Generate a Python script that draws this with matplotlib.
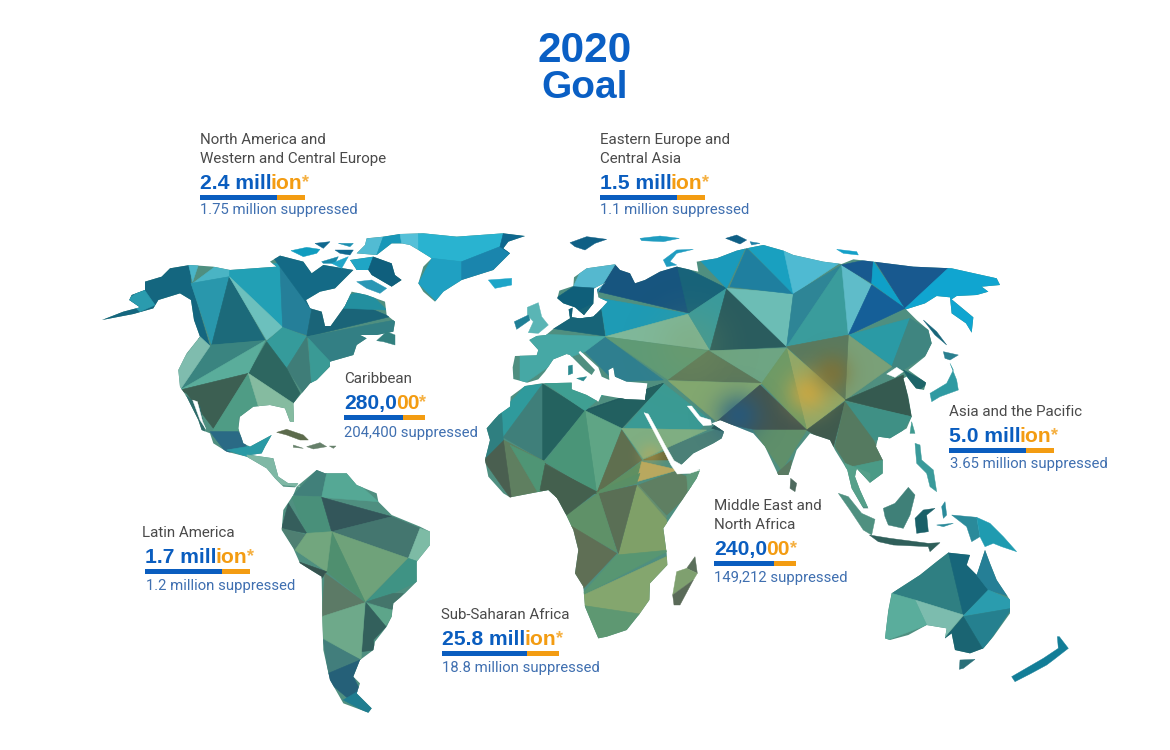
import numpy as np
import matplotlib
matplotlib.use("Agg")
import matplotlib.pyplot as plt
from matplotlib.patches import Polygon, PathPatch
from matplotlib.path import Path
from matplotlib.colors import to_rgb

# chart data
regions = [["North America and", "Western and Central Europe"],
           ["Eastern Europe and", "Central Asia"],
           ["Caribbean"],
           ["Latin America"],
           ["Sub-Saharan Africa"],
           ["Middle East and", "North Africa"],
           ["Asia and the Pacific"]]
goal_blue = ["2.4 mill", "1.5 mill", "280,0", "1.7 mill", "25.8 mill", "240,0", "5.0 mill"]
goal_orange = ["ion", "ion", "00", "ion", "ion", "00", "ion"]
suppressed = ["1.75 million", "1.1 million", "204,400", "1.2 million", "18.8 million", "149,212", "3.65 million"]
suppressed_share = 0.73

# where each block sits: left x, top of bar y, bar length, label shift, sub line offset (pixels)
layout = [(200, 195, 105, 0, 19), (600, 195, 105, 0, 19), (344, 415, 81, 0, 22), (145, 569, 105, -3, 21),
          (442, 651, 117, -1, 21), (714, 561, 82, 0, 21), (949, 448, 105, 0, 20)]

BLUE = "#0a5dbf"
ORANGE = "#f39c12"
SUB = "#3f6fb0"
GREY = "#4a4a4a"

O1 = (90, 220)
O2 = (520, 220)
O3 = (260, 450)
O4 = (820, 440)
O6 = (470, 280)
O7 = (540, 440)


def c(o, pts):
    return [(o[0] + x / 3, o[1] + y / 3) for x, y in pts]


north_america = c(O1, [(36, 300), (100, 275), (150, 262), (118, 240), (125, 225), (165, 210), (165, 185), (215, 170),
                       (240, 145), (300, 135), (370, 140), (420, 150), (490, 145), (560, 140), (540, 125), (570, 107),
                       (640, 125), (665, 160), (700, 135), (760, 145), (790, 150), (735, 205), (690, 215), (648, 240),
                       (660, 265), (695, 275), (705, 318), (722, 318), (765, 258), (785, 215), (830, 225), (885, 245),
                       (890, 285), (915, 305), (910, 335), (860, 345), (810, 345), (830, 355), (800, 375), (790, 405),
                       (720, 425), (720, 440), (680, 480), (660, 490), (610, 550), (612, 605), (600, 605), (585, 565),
                       (540, 555), (490, 560), (450, 590), (445, 625), (460, 670), (480, 680), (545, 645), (525, 680),
                       (515, 700), (480, 705), (550, 715), (565, 770), (595, 790), (625, 790), (615, 802), (580, 800),
                       (555, 775), (530, 745), (470, 710), (410, 695), (370, 670), (360, 640), (335, 630), (325, 600),
                       (290, 530), (270, 500), (265, 450), (290, 400), (330, 350), (312, 300), (303, 240), (270, 220),
                       (205, 240), (190, 265), (130, 282)])
south_america = c(O3, [(100, 135), (110, 110), (170, 60), (195, 70), (260, 70), (290, 105), (350, 130), (355, 155),
                       (395, 195), (480, 230), (510, 245), (510, 285), (470, 335), (470, 395), (435, 430), (400, 460),
                       (395, 500), (380, 530), (345, 575), (340, 600), (300, 630), (280, 680), (300, 700), (290, 730),
                       (335, 775), (325, 788), (250, 760), (210, 690), (190, 600), (187, 500), (185, 380), (120, 340),
                       (100, 295), (65, 240), (70, 180)])
greenland = c(O1, [(830, 55), (880, 50), (930, 42), (1000, 40), (1100, 50), (1240, 40), (1305, 48), (1255, 65),
                   (1240, 85), (1260, 100), (1235, 125), (1210, 150), (1115, 180), (1060, 215), (1035, 245),
                   (1000, 215), (985, 190), (1000, 140), (1025, 115), (985, 90), (960, 75), (935, 70), (905, 70),
                   (860, 105), (800, 100), (825, 75)])
baffin = c(O1, [(780, 120), (850, 110), (905, 130), (915, 165), (935, 180), (905, 200), (845, 165), (835, 150), (800, 150)])
eurasia_africa = (
    c(O6, [(172, 308), (130, 297), (128, 262), (135, 228), (200, 226), (205, 210), (178, 180), (200, 168), (228, 165),
           (252, 145), (300, 115), (296, 88), (308, 83), (305, 112), (330, 115), (370, 110), (395, 85), (413, 65)])
    + c(O2, [(235, 232), (232, 208), (258, 187), (222, 205), (220, 250), (192, 285), (165, 262), (130, 250), (112, 235),
             (118, 212), (160, 198), (162, 172), (200, 145), (285, 133), (300, 150), (330, 160), (345, 190), (375, 180),
             (420, 155), (470, 140), (535, 155), (530, 125), (590, 115), (650, 92), (680, 85), (730, 75), (790, 92),
             (820, 105), (910, 125), (965, 132), (1000, 118), (1060, 125), (1180, 140), (1295, 145), (1430, 175),
             (1440, 195), (1385, 200), (1405, 215), (1370, 225), (1310, 228), (1295, 238), (1360, 292), (1355, 338),
             (1338, 310), (1295, 280), (1290, 232), (1250, 228), (1215, 250), (1158, 268), (1190, 300), (1225, 330),
             (1235, 370), (1215, 410), (1165, 450), (1218, 488), (1212, 510), (1188, 505), (1160, 470), (1150, 475),
             (1165, 530), (1175, 590), (1160, 625), (1110, 655), (1075, 650), (1068, 680), (1088, 720), (1088, 760),
             (1050, 788), (1010, 745)])
    + c(O4, [(105, 110), (120, 150), (145, 205), (130, 205), (95, 145), (82, 90)])
    + c(O2, [(945, 690), (930, 660), (870, 640), (830, 690), (805, 765), (775, 765), (735, 680), (700, 640), (650, 620),
             (600, 600), (575, 610), (612, 635), (605, 655), (580, 670), (520, 700), (480, 738)])
    + c(O6, [(620, 580), (690, 568)])
    + c(O7, [(480, 90), (470, 115), (440, 160), (370, 265), (380, 340), (382, 375), (330, 430), (328, 480), (300, 520),
             (260, 570), (200, 590), (175, 595), (160, 560), (135, 500), (130, 440), (105, 400), (115, 330), (100, 270),
             (80, 228), (51, 174)])
    + c(O6, [(235, 630), (120, 652), (100, 640), (55, 590), (45, 540), (60, 480), (50, 445), (85, 405), (120, 380),
             (122, 350), (165, 318), (215, 310), (305, 308), (305, 328), (350, 345), (385, 365), (395, 345), (470, 358),
             (525, 360), (532, 310), (470, 305), (435, 290), (430, 262), (415, 270), (418, 300), (395, 290), (385, 262),
             (330, 212), (325, 218), (375, 270), (365, 285), (345, 270), (300, 225), (290, 222), (250, 238), (225, 275),
             (205, 298)]))
australia = c(O4, [(195, 595), (205, 510), (215, 460), (300, 405), (350, 365), (385, 338), (450, 345), (440, 375),
                   (470, 405), (495, 330), (510, 370), (530, 420), (570, 480), (570, 520), (520, 590), (490, 625),
                   (450, 640), (405, 630), (395, 580), (375, 595), (380, 565), (320, 555), (265, 585), (210, 600)])
land = [north_america, south_america, greenland, baffin, eurasia_africa, australia]

facets = [
    # north america
    (O1, "#14667f", [(0, 320), (120, 150), (300, 130), (303, 190), (360, 380), (250, 300)]),
    (O1, "#2a9bae", [(110, 240), (160, 205), (195, 255), (150, 275)]),
    (O1, "#4ab5c8", [(296, 135), (325, 135), (308, 185)]),
    (O1, "#4ab4c4", [(308, 190), (375, 140), (420, 150), (418, 170)]),
    (O1, "#2997ac", [(303, 190), (418, 170), (365, 375)]),
    (O1, "#1c6a7a", [(418, 170), (525, 360), (365, 375)]),
    (O1, "#22a0b5", [(418, 170), (420, 140), (570, 130), (578, 322)]),
    (O1, "#6cc0bd", [(418, 170), (578, 322), (530, 360)]),
    (O1, "#257f99", [(570, 140), (665, 270), (650, 345), (578, 322)]),
    (O1, "#146a86", [(570, 140), (540, 100), (800, 150), (735, 210), (665, 270)]),
    (O1, "#1a6478", [(665, 270), (780, 240), (900, 290), (650, 350)]),
    (O1, "#238f9f", [(760, 230), (830, 210), (890, 270), (760, 265)]),
    (O1, "#337f84", [(650, 350), (915, 300), (920, 380), (725, 430)]),
    (O1, "#359b9b", [(578, 322), (650, 350), (590, 445), (530, 365)]),
    (O1, "#3f7d78", [(650, 350), (590, 445), (640, 520), (665, 500)]),
    (O1, "#3a9a95", [(655, 355), (725, 430), (665, 500)]),
    (O1, "#2d6660", [(530, 365), (590, 445), (630, 520), (610, 550), (475, 460)]),
    (O1, "#3a8480", [(360, 375), (525, 362), (270, 510)]),
    (O1, "#7fbcae", [(330, 350), (360, 378), (270, 510), (255, 450)]),
    (O1, "#5aad9b", [(525, 362), (475, 460), (270, 510)]),
    (O1, "#3c5f52", [(270, 510), (475, 460), (370, 625), (290, 520)]),
    (O1, "#2f6b6a", [(285, 525), (330, 560), (345, 640), (320, 630)]),
    (O1, "#4f9c85", [(475, 460), (510, 575), (445, 590), (445, 635), (368, 632)]),
    (O1, "#85bba0", [(475, 460), (610, 550), (620, 610), (510, 575)]),
    (O1, "#2a6a85", [(360, 635), (445, 635), (470, 680), (410, 700)]),
    (O1, "#2a9aa5", [(410, 690), (470, 680), (550, 640), (520, 700), (470, 710)]),
    (O1, "#7fb8a5", [(470, 705), (560, 710), (630, 800), (530, 790)]),
    # greenland and baffin
    (O1, "#52bbd3", [(830, 55), (880, 50), (860, 105), (800, 100)]),
    (O1, "#1897b8", [(880, 50), (930, 42), (935, 70), (860, 105)]),
    (O1, "#55c0d8", [(930, 42), (985, 40), (990, 90), (935, 70)]),
    (O1, "#29b3d0", [(985, 40), (1240, 40), (1230, 80), (1115, 125), (1025, 115), (985, 90)]),
    (O1, "#1fa0c2", [(1025, 115), (1115, 125), (1115, 180), (1040, 245), (985, 190)]),
    (O1, "#1a85ad", [(1115, 125), (1230, 80), (1260, 100), (1210, 150), (1115, 180)]),
    (O1, "#0f688f", [(1240, 40), (1305, 48), (1260, 100), (1230, 80)]),
    (O1, "#1fa5c5", [(780, 120), (850, 110), (835, 150), (800, 150)]),
    (O1, "#0f5f7d", [(850, 110), (905, 130), (915, 165), (935, 180), (905, 200), (845, 165), (835, 150)]),
    # south america
    (O3, "#41807a", [(100, 135), (170, 60), (200, 70), (185, 140)]),
    (O3, "#55a895", [(200, 70), (260, 70), (355, 155), (185, 142)]),
    (O3, "#49907a", [(95, 140), (185, 140), (212, 245), (140, 255)]),
    (O3, "#355e5c", [(85, 160), (140, 250), (65, 235)]),
    (O3, "#4f7f72", [(65, 235), (140, 255), (105, 300)]),
    (O3, "#33565a", [(185, 142), (395, 200), (215, 245)]),
    (O3, "#44766f", [(215, 245), (395, 200), (480, 235), (445, 325)]),
    (O3, "#6fa27a", [(215, 245), (445, 325), (315, 455)]),
    (O3, "#7dbba5", [(480, 235), (510, 245), (510, 290), (470, 335), (445, 325)]),
    (O3, "#3f9384", [(445, 325), (475, 335), (470, 395), (400, 430), (320, 455)]),
    (O3, "#44756b", [(320, 455), (400, 430), (430, 430), (395, 480)]),
    (O3, "#5da58a", [(320, 460), (395, 480), (395, 500), (375, 530)]),
    (O3, "#4f8f6f", [(215, 245), (315, 455), (200, 365)]),
    (O3, "#72a67e", [(140, 250), (215, 245), (200, 365), (105, 300)]),
    (O3, "#36534f", [(115, 335), (200, 365), (185, 385)]),
    (O3, "#5c7a66", [(195, 370), (315, 458), (185, 500)]),
    (O3, "#33605c", [(318, 458), (378, 530), (340, 570), (345, 600), (303, 605)]),
    (O3, "#6ea98a", [(185, 500), (315, 458), (303, 630), (190, 565)]),
    (O3, "#427e7c", [(190, 570), (303, 630), (205, 670)]),
    (O3, "#256078", [(205, 670), (300, 630), (280, 680), (300, 720), (270, 750), (210, 700)]),
    (O3, "#1f7d90", [(250, 750), (300, 720), (338, 778), (325, 790)]),
    # europe and asia
    (O2, "#17557f", [(235, 215), (290, 130), (470, 130), (510, 280)]),
    (O2, "#18637a", [(470, 130), (620, 205), (505, 280)]),
    (O2, "#55b8cf", [(160, 200), (190, 135), (290, 125), (235, 215), (215, 205)]),
    (O2, "#0f5f7a", [(100, 240), (160, 200), (235, 205), (225, 295), (160, 295)]),
    (O2, "#176478", [(95, 325), (140, 290), (240, 240), (255, 348)]),
    (O2, "#1e9bb5", [(240, 235), (510, 282), (258, 348)]),
    (O2, "#7fb89a", [(255, 350), (505, 282), (570, 390)]),
    (O2, "#3a9a9c", [(505, 282), (620, 205), (570, 390)]),
    (O2, "#2a5c5e", [(620, 205), (800, 380), (570, 392)]),
    (O2, "#6cbdb5", [(620, 205), (820, 220), (800, 380)]),
    (O2, "#1a9abb", [(530, 110), (680, 75), (620, 205)]),
    (O2, "#1f7f9f", [(680, 85), (630, 200), (820, 222)]),
    (O2, "#19a0c0", [(680, 80), (790, 70), (820, 222)]),
    (O2, "#4fbad2", [(790, 85), (965, 125), (820, 222)]),
    (O2, "#2e8596", [(820, 222), (965, 135), (800, 380)]),
    (O2, "#3a9c9c", [(965, 135), (985, 345), (800, 380)]),
    (O2, "#5fbcc9", [(965, 135), (1055, 195), (985, 345)]),
    (O2, "#18598f", [(965, 135), (1060, 115), (1055, 190)]),
    (O2, "#0fa0c8", [(1060, 125), (1155, 265), (1055, 190)]),
    (O2, "#18598f", [(1060, 115), (1295, 135), (1155, 265)]),
    (O2, "#155f98", [(1055, 195), (1155, 265), (985, 345)]),
    (O2, "#10a5d0", [(1295, 135), (1450, 180), (1370, 350), (1155, 265)]),
    (O2, "#2a9aa5", [(985, 345), (1170, 295), (1120, 440)]),
    (O2, "#3f8580", [(1170, 295), (1240, 340), (1240, 390), (1150, 450), (1115, 440)]),
    (O2, "#7aa078", [(985, 345), (1115, 440), (975, 540)]),
    (O2, "#5a7a5f", [(800, 380), (985, 345), (975, 540)]),
    (O2, "#90a86a", [(800, 385), (975, 540), (860, 630)]),
    (O2, "#6ea583", [(570, 392), (800, 385), (725, 490)]),
    (O2, "#6e9a66", [(800, 385), (860, 630), (725, 490)]),
    (O2, "#5f9a76", [(255, 350), (565, 392), (445, 480)]),
    (O2, "#5f7a5a", [(565, 392), (725, 490), (445, 480)]),
    (O2, "#83a870", [(445, 482), (725, 490), (590, 605)]),
    (O2, "#2f7f8f", [(195, 395), (255, 352), (430, 480), (285, 485)]),
    (O2, "#46a8a5", [(0, 340), (255, 350), (195, 395), (100, 430), (0, 500)]),
    (O2, "#45564f", [(720, 495), (590, 605), (720, 632), (860, 630)]),
    (O2, "#3a9a94", [(430, 490), (570, 600), (540, 628), (310, 628)]),
    (O2, "#1f5a5e", [(195, 570), (430, 490), (300, 625)]),
    (O2, "#56a08a", [(310, 630), (540, 630), (450, 690), (370, 720)]),
    (O2, "#4b8077", [(440, 680), (600, 625), (620, 650), (480, 745)]),
    (O2, "#2a5a55", [(575, 625), (600, 600), (615, 635)]),
    (O2, "#5f8f6a", [(700, 630), (860, 630), (785, 750)]),
    (O2, "#5a7a62", [(770, 760), (815, 720), (805, 800)]),
    (O2, "#3f5a4e", [(860, 630), (975, 545), (940, 680)]),
    (O2, "#355a50", [(975, 540), (1150, 465), (1175, 590)]),
    (O2, "#3f9085", [(975, 545), (1175, 590), (1130, 660), (1040, 660)]),
    (O2, "#557a60", [(975, 545), (1060, 660), (1090, 720), (985, 740), (945, 680)]),
    (O2, "#4a9a86", [(1000, 740), (1090, 720), (1090, 760), (1050, 790)]),
    (O2, "#1d6468", [(1150, 450), (1225, 490), (1190, 515)]),
    (O2, "#55a08a", [(975, 730), (1050, 760), (1050, 860), (975, 860)]),
    # africa
    (O6, "#2f9a9c", [(165, 318), (218, 312), (100, 470), (85, 405)]),
    (O6, "#3f7f7a", [(218, 312), (218, 540), (100, 472)]),
    (O6, "#24625f", [(218, 312), (345, 392), (218, 545)]),
    (O6, "#3f9f92", [(218, 305), (305, 305), (400, 345), (345, 392)]),
    (O6, "#226060", [(345, 395), (580, 310), (455, 445)]),
    (O6, "#5fa585", [(345, 392), (455, 445), (380, 640)]),
    (O6, "#4a9578", [(345, 392), (380, 640), (225, 545)]),
    (O6, "#5f7f60", [(100, 480), (225, 545), (210, 640), (120, 660)]),
    (O6, "#4f9575", [(120, 495), (225, 545), (250, 650), (205, 640)]),
    (O6, "#4a5f50", [(40, 540), (100, 480), (125, 660)]),
    (O6, "#2f7f80", [(45, 440), (95, 400), (100, 480), (40, 540)]),
    (O6, "#4a6650", [(225, 550), (380, 640), (260, 660)]),
    (O6, "#5f6f4f", [(455, 450), (515, 540), (380, 640)]),
    (O6, "#5f8f62", [(380, 640), (515, 545), (495, 610)]),
    (O6, "#7fae82", [(455, 445), (710, 450), (520, 535)]),
    (O6, "#6a6a3a", [(520, 540), (610, 540), (580, 515)]),
    (O6, "#b8a860", [(500, 605), (515, 545), (625, 570)]),
    (O7, "#5f7f62", [(295, 135), (405, 95), (440, 110), (460, 150), (380, 225)]),
    (O7, "#5f9a7a", [(440, 105), (490, 85), (445, 175)]),
    (O7, "#688f6e", [(295, 135), (380, 230), (365, 270)]),
    (O7, "#7fa068", [(290, 135), (380, 240), (390, 335), (235, 345)]),
    (O7, "#5a6f55", [(175, 160), (290, 135), (235, 340)]),
    (O7, "#5f9168", [(70, 230), (175, 160), (230, 335), (100, 265)]),
    (O7, "#5a8f65", [(175, 160), (290, 130), (300, 100), (180, 150)]),
    (O7, "#44604e", [(15, 75), (170, 155), (80, 225), (40, 180), (0, 150)]),
    (O7, "#5f6f55", [(80, 250), (230, 340), (130, 445), (80, 410)]),
    (O7, "#589672", [(230, 345), (390, 330), (120, 470)]),
    (O7, "#84a66e", [(120, 470), (390, 345), (390, 385), (335, 440), (320, 530), (120, 495)]),
    (O7, "#5e9872", [(120, 495), (320, 525), (270, 585), (160, 610)]),
    # australia
    (O4, "#2f7f82", [(215, 460), (385, 335), (430, 525), (285, 480)]),
    (O4, "#17667a", [(385, 335), (455, 340), (470, 405), (505, 450), (430, 525)]),
    (O4, "#257f96", [(470, 405), (495, 325), (570, 470), (505, 450)]),
    (O4, "#2a9cae", [(505, 450), (575, 480), (575, 505), (430, 528)]),
    (O4, "#25808f", [(430, 530), (575, 505), (490, 630)]),
    (O4, "#1a6472", [(430, 530), (490, 630), (450, 645), (400, 635), (370, 600)]),
    (O4, "#7cbcae", [(285, 480), (430, 525), (375, 590), (320, 555)]),
    (O4, "#5aad9c", [(215, 460), (285, 480), (320, 555), (190, 605)]),
]

# small islands in one colour each
islands = [
    (O1, "#1da5c8", [(1195, 180), (1265, 175), (1265, 195), (1215, 205)]),
    (O1, "#109cbf", [(603, 92), (650, 82), (690, 88), (680, 100), (640, 110)]),
    (O1, "#0f688f", [(675, 70), (720, 65), (700, 85)]),
    (O1, "#0f688f", [(735, 90), (790, 90), (780, 105), (750, 100)]),
    (O1, "#1a8fb0", [(745, 70), (790, 70), (780, 80)]),
    (O1, "#1788a8", [(695, 125), (745, 110), (735, 130), (700, 130)]),
    (O1, "#20a5c8", [(725, 130), (775, 110), (755, 145)]),
    (O1, "#2a97b5", [(800, 185), (845, 180), (890, 205), (870, 220), (830, 205)]),
    (O1, "#32807f", [(860, 362), (890, 335), (915, 345), (915, 375), (880, 365)]),
    (O1, "#5c6b4c", [(560, 637), (590, 628), (640, 645), (655, 660), (630, 660), (590, 645)]),
    (O1, "#66806a", [(610, 675), (640, 685), (610, 682)]),
    (O1, "#66806a", [(650, 680), (690, 668), (710, 680), (670, 687)]),
    (O1, "#66806a", [(718, 678), (738, 678), (730, 685)]),
    (O6, "#5ab5b5", [(172, 82), (205, 68), (215, 110), (235, 135), (205, 160), (175, 158), (190, 125), (172, 105)]),
    (O6, "#1f7f96", [(133, 125), (175, 105), (180, 120), (140, 148)]),
    (O6, "#2a8a90", [(295, 258), (307, 255), (308, 280), (295, 285)]),
    (O6, "#2a8a90", [(320, 295), (350, 290), (340, 303)]),
    (O2, "#0f5f85", [(150, 68), (200, 50), (260, 58), (225, 70), (195, 90), (165, 80)]),
    (O2, "#1f9cc0", [(360, 55), (420, 48), (478, 55), (430, 65), (365, 62)]),
    (O2, "#0f5f85", [(617, 55), (650, 45), (680, 60), (660, 72)]),
    (O2, "#1f7fa5", [(690, 65), (720, 70), (695, 75)]),
    (O2, "#1f9cc0", [(430, 120), (470, 90), (520, 88), (470, 100), (450, 125), (470, 135), (440, 140)]),
    (O2, "#14a0c8", [(950, 88), (1010, 95), (1015, 105), (970, 100)]),
    (O2, "#17657a", [(1210, 300), (1250, 335), (1280, 375), (1245, 345)]),
    (O2, "#2a7f8f", [(1270, 395), (1315, 405), (1290, 420), (1275, 415)]),
    (O2, "#2f9aa2", [(1290, 430), (1310, 480), (1315, 510), (1260, 530), (1235, 545), (1230, 520), (1280, 490), (1300, 450)]),
    (O2, "#3f9a90", [(1175, 605), (1185, 640), (1170, 640)]),
    (O2, "#4e6a5e", [(812, 775), (830, 790), (825, 815), (810, 805)]),
    (O7, "#5a6f5a", [(440, 385), (465, 350), (472, 400)]),
    (O7, "#7fa06f", [(410, 395), (440, 385), (472, 400), (460, 420), (398, 465)]),
    (O7, "#5a6a58", [(398, 465), (460, 420), (420, 495), (402, 495)]),
    (O4, "#3a9a9a", [(285, 10), (300, 15), (305, 60), (340, 90), (350, 155), (330, 140), (320, 100), (290, 70)]),
    (O4, "#4f9080", [(55, 160), (85, 170), (125, 220), (165, 238), (155, 285), (130, 270), (90, 210)]),
    (O4, "#2f5f5a", [(148, 285), (210, 295), (325, 310), (360, 308), (330, 335), (325, 320), (220, 315), (175, 305)]),
    (O4, "#3f8078", [(190, 205), (225, 190), (265, 142), (285, 165), (270, 225), (250, 265), (205, 255), (195, 230)]),
    (O4, "#1a6068", [(285, 235), (310, 210), (345, 205), (320, 225), (325, 275), (290, 280)]),
    (O4, "#2a8a9a", [(365, 200), (375, 185), (380, 225), (370, 235)]),
    (O4, "#2a8a9a", [(350, 255), (400, 250), (370, 260)]),
    (O4, "#2a8a9a", [(395, 225), (470, 232), (480, 290), (455, 305), (440, 260)]),
    (O4, "#1f9bb0", [(470, 232), (510, 250), (550, 290), (590, 335), (545, 320), (520, 310), (495, 320), (480, 290)]),
    (O4, "#2a6f78", [(420, 660), (465, 658), (430, 685), (418, 688)]),
    (O4, "#127d97", [(575, 710), (670, 655), (715, 625), (712, 590), (718, 590), (745, 625), (700, 660), (680, 675), (630, 702), (585, 725)]),
]

# seas cut out of the land
seas = [
    (O6, [(522, 398), (535, 402), (560, 448), (585, 495), (612, 542), (635, 555), (690, 570), (660, 580), (622, 582), (603, 555), (578, 505), (552, 455)]),
    (O6, [(652, 378), (665, 378), (690, 410), (722, 420), (725, 435), (700, 437), (685, 420)]),
    (O1, [(308, 540), (322, 545), (338, 605), (348, 628), (330, 600)]),
    (O2, [(1100, 462), (1130, 442), (1150, 455), (1125, 472)]),
]

# soft colour patches over the middle of asia: x, y, radius, colour, strength
glows = [(808, 392, 24, "#d0a840", 0.8), (832, 372, 22, "#8a6f2a", 0.6), (738, 415, 26, "#1f5a88", 0.7),
         (650, 455, 14, "#c8a850", 0.4), (690, 345, 40, "#7f9a5f", 0.25)]

fig = plt.figure(figsize=(11.7, 7.5), dpi=100)
ax = fig.add_axes([0, 0, 1, 1])
ax.axis("off")

verts, codes = [], []
for poly in land:
    poly = np.array(poly)
    x, y = poly[:, 0], poly[:, 1]
    if np.dot(x, np.roll(y, 1)) - np.dot(y, np.roll(x, 1)) < 0:
        poly = poly[::-1]
    verts += list(poly) + [poly[0]]
    codes += [Path.MOVETO] + [Path.LINETO] * (len(poly) - 1) + [Path.CLOSEPOLY]
land_patch = PathPatch(Path(verts, codes), fc="#4f8f80", ec="none", zorder=1)
ax.add_patch(land_patch)

for o, col, pts in facets:
    p = Polygon(c(o, pts), closed=True, fc=col, ec=col, lw=0.4, zorder=2)
    ax.add_patch(p)
    p.set_clip_path(land_patch)

xx, yy = np.meshgrid(np.arange(0, 1170), np.arange(0, 750))
for gx, gy, r, col, strength in glows:
    rgba = np.zeros((750, 1170, 4))
    rgba[..., :3] = to_rgb(col)
    rgba[..., 3] = strength * np.exp(-((xx - gx) ** 2 + (yy - gy) ** 2) / (2 * (r * 0.6) ** 2))
    im = ax.imshow(rgba, extent=(0, 1170, 750, 0), aspect="auto", zorder=3, interpolation="bilinear")
    im.set_clip_path(land_patch)

for o, col, pts in islands:
    ax.add_patch(Polygon(c(o, pts), closed=True, fc=col, ec=col, lw=0.3, zorder=4))
for o, pts in seas:
    ax.add_patch(Polygon(c(o, pts), closed=True, fc="white", ec="white", lw=0.3, zorder=4))

ax.set_xlim(0, 1170)
ax.set_ylim(750, 0)

# title
title_font = dict(family="Liberation Sans", weight="bold", color="#0a5fc4", ha="center", va="baseline")
ax.text(584.5, 62, "2020", fontsize=30.5, **title_font)
ax.text(584.5, 98, "Goal", fontsize=28, **title_font)

renderer = fig.canvas.get_renderer()
label_font = dict(family="Roboto", fontsize=10.9, color=GREY, va="baseline")
head_font = dict(family="Liberation Sans", weight="bold", fontsize=15.2, va="baseline")

for lines, blue, orange, sup, (x, y, length, dx, sub_dy) in zip(regions, goal_blue, goal_orange, suppressed, layout):
    ax.barh(y + 2.5, length * suppressed_share, left=x, height=5, color=BLUE, zorder=5)
    ax.barh(y + 2.5, length * (1 - suppressed_share), left=x + length * suppressed_share, height=5, color=ORANGE, zorder=5)

    for i, line in enumerate(reversed(lines)):
        ax.text(x + dx, y - 32 - 19 * i, line, zorder=6, **label_font)

    t1 = ax.text(x, y - 6, blue, color=BLUE, zorder=6, **head_font)
    x2 = t1.get_window_extent(renderer).x1 - 1
    t2 = ax.text(x2, y - 6, orange, color=ORANGE, zorder=6, **head_font)
    x3 = t2.get_window_extent(renderer).x1
    ax.text(x3, y - 8, "*", color="#f5b041", zorder=6, family="Liberation Sans", weight="bold",
            fontsize=13, va="baseline")

    ax.text(x + 0.5, y + sub_dy, sup + " suppressed", color=SUB, zorder=6,
            family="Roboto", fontsize=10.7, va="baseline")

ax.set_xlim(0, 1170)
ax.set_ylim(750, 0)
fig.savefig("out.png", dpi=100, facecolor="white")
